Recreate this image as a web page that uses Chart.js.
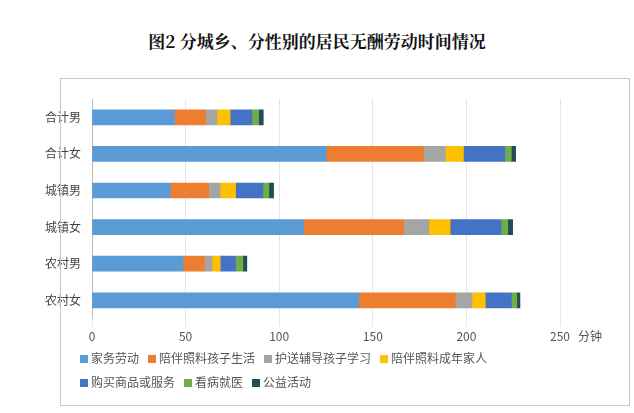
<!DOCTYPE html>
<html><head><meta charset="utf-8">
<script src="https://cdn.jsdelivr.net/npm/chart.js@4"></script>
<style>
body{margin:0;background:#fff;width:634px;height:413px;position:relative;overflow:hidden;font-family:"Noto Sans CJK SC",sans-serif}
#title{position:absolute;left:0;width:634px;top:28px;text-align:center;font-size:17px;font-weight:bold;color:#111;font-family:"Noto Serif CJK SC","Noto Sans CJK SC",serif}
#box{position:absolute;left:60px;top:78px;width:568px;height:326px;border:1px solid #c8c8c8;z-index:2;pointer-events:none}
#wrap{position:absolute;left:0;top:0;width:634px;height:413px}
#unit{position:absolute;left:578px;top:327px;font-size:12px;color:#555}
#legend{position:absolute;left:80px;top:346px;width:520px;font-size:12px;color:#555}
.item{display:inline-block;margin-right:9px;line-height:24px}
.sw{display:inline-block;width:8px;height:8px;margin-right:3px;vertical-align:0}
</style></head><body>
<div id="title">图2 分城乡、分性别的居民无酬劳动时间情况</div>
<div id="wrap"><canvas id="c" width="634" height="413"></canvas></div>
<div id="box"></div>
<div id="unit">分钟</div>
<div id="legend"></div>
<script>
const categories=["合计男","合计女","城镇男","城镇女","农村男","农村女"];
const seriesNames=["家务劳动","陪伴照料孩子生活","护送辅导孩子学习","陪伴照料成年家人","购买商品或服务","看病就医","公益活动"];
const housework=[44.1,125.1,41.8,113.0,48.6,142.5];
const childCare=[16.6,52.1,20.5,53.5,11.5,51.6];
const childStudy=[6.0,11.6,6.2,13.4,4.0,8.9];
const adultCare=[7.1,9.6,8.2,11.4,4.4,7.1];
const shopping=[11.6,22.1,14.6,27.2,8.2,13.9];
const medical=[3.6,3.5,3.2,3.6,3.9,2.9];
const publicWork=[2.5,2.3,2.5,2.6,2.1,1.7];
const xTicks=[0,50,100,150,200,250];
const colors=["#5B9BD5","#ED7D31","#A5A5A5","#FFC000","#4472C4","#70AD47","#1F4E5A"];
const values=[housework,childCare,childStudy,adultCare,shopping,medical,publicWork];
const lg=document.getElementById('legend');
seriesNames.forEach((n,i)=>{lg.innerHTML+=`<span class="item"><span class="sw" style="background:${colors[i]}"></span>${n}</span>`;});
new Chart(document.getElementById('c'),{type:'bar',
data:{labels:categories,datasets:seriesNames.map((n,i)=>({label:n,data:values[i],backgroundColor:colors[i],barThickness:15}))},
options:{indexAxis:'y',responsive:false,animation:false,
layout:{padding:{left:42,right:74,top:99,bottom:66}},
plugins:{legend:{display:false},tooltip:{enabled:false}},
scales:{x:{stacked:true,min:0,max:250,afterBuildTicks:a=>{a.ticks=xTicks.map(v=>({value:v}));},
ticks:{color:'#555',font:{size:12,family:'Noto Sans CJK SC'}},grid:{color:'#e6e6e6'},border:{display:false}},
y:{stacked:true,ticks:{color:'#444',font:{size:12,family:'Noto Sans CJK SC'}},grid:{display:false},border:{color:'#bbb'}}}}});
</script></body></html>
